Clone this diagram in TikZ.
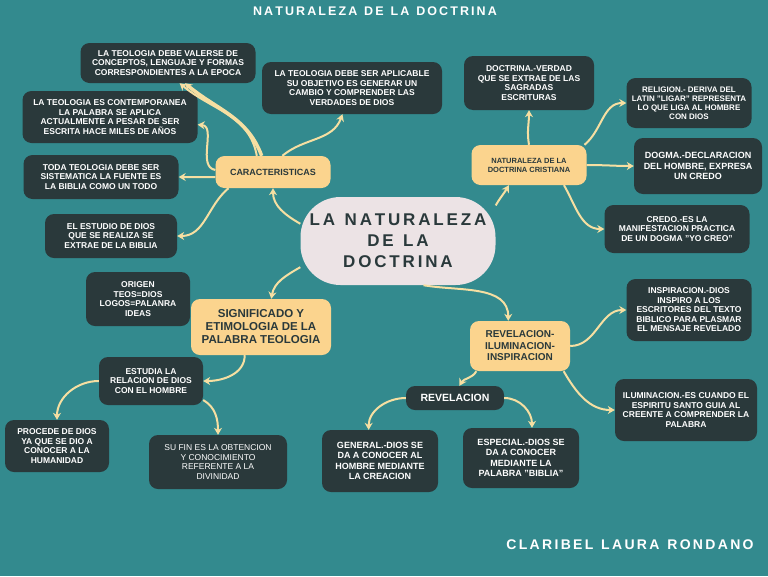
\documentclass[tikz,border=0pt]{standalone}
\usepackage{fontspec}
\setmainfont{Liberation Sans}
\usetikzlibrary{arrows.meta}
\definecolor{bg}{HTML}{338A8E}
\definecolor{dk}{HTML}{2A393B}
\definecolor{yl}{HTML}{FBD48E}
\definecolor{cn}{HTML}{ECE3E5}
\definecolor{ar}{HTML}{F6DFA2}
\tikzset{
 dbox/.style={fill=dk,rounded corners=9pt,text=white,align=center,font=\bfseries\fontsize{8.5}{9.5}\selectfont,inner sep=2pt},
 ybox/.style={fill=yl,rounded corners=9pt,text=dk,align=center,font=\bfseries\fontsize{9}{10}\selectfont,inner sep=2pt},
 con/.style={draw=ar,line width=2pt,-{Stealth[length=7pt,width=8pt]}},
}
\begin{document}
\begin{tikzpicture}[x=1pt,y=-1pt]
\fill[bg] (0,0) rectangle (768,576);
\useasboundingbox (0,0) rectangle (768,576);
\node[text=white,font=\bfseries\fontsize{12.5}{13}\selectfont] (t) at (375,11) {N\,A\,T\,U\,R\,A\,L\,E\,Z\,A\ \ D\,E\ \ L\,A\ \ D\,O\,C\,T\,R\,I\,N\,A};
\node[text=white,font=\bfseries\fontsize{14}{15}\selectfont] (au) at (630,545) {C\,L\,A\,R\,I\,B\,E\,L\ \ L\,A\,U\,R\,A\ \ R\,O\,N\,D\,A\,N\,O};
\node[fill=cn,rounded corners=40pt,minimum width=195,minimum height=88,text=dk,align=center,font=\bfseries\fontsize{17}{21}\selectfont] (c) at (398,241) {L\,A\ \ N\,A\,T\,U\,R\,A\,L\,E\,Z\,A\\D\,E\ \ L\,A\\D\,O\,C\,T\,R\,I\,N\,A};
\node[ybox,minimum width=115,minimum height=32] (car) at (273,172) {CARACTERISTICAS};
\node[dbox,minimum width=175,minimum height=40] (a1) at (168,63) {LA TEOLOGIA DEBE VALERSE DE\\CONCEPTOS, LENGUAJE Y FORMAS\\CORRESPONDIENTES A LA EPOCA};
\node[dbox,minimum width=180,minimum height=52] (a2) at (352,88) {LA TEOLOGIA DEBE SER APLICABLE\\SU OBJETIVO ES GENERAR UN\\CAMBIO Y COMPRENDER LAS\\VERDADES DE DIOS};
\node[dbox,minimum width=175,minimum height=52] (a3) at (110,117) {LA TEOLOGIA ES CONTEMPORANEA\\LA PALABRA SE APLICA\\ACTUALMENTE A PESAR DE SER\\ESCRITA HACE MILES DE AÑOS};
\node[dbox,minimum width=155,minimum height=44] (a4) at (101,177) {TODA TEOLOGIA DEBE SER\\SISTEMATICA LA FUENTE ES\\LA BIBLIA COMO UN TODO};
\node[dbox,minimum width=132,minimum height=44] (a5) at (111,236) {EL ESTUDIO DE DIOS\\QUE SE REALIZA SE\\EXTRAE DE LA BIBLIA};
\node[ybox,minimum width=115,minimum height=40,font=\bfseries\fontsize{7.5}{9}\selectfont] (nat) at (529,165) {NATURALEZA DE LA\\DOCTRINA CRISTIANA};
\node[dbox,minimum width=130,minimum height=54] (b1) at (529,83) {DOCTRINA.-VERDAD\\QUE SE EXTRAE DE LAS\\SAGRADAS\\ESCRITURAS};
\node[dbox,minimum width=125,minimum height=50,font=\bfseries\fontsize{8}{9}\selectfont] (b2) at (689,103) {RELIGION.- DERIVA DEL\\LATIN "LIGAR" REPRESENTA\\LO QUE LIGA AL HOMBRE\\CON DIOS};
\node[dbox,minimum width=128,minimum height=56,font=\bfseries\fontsize{9}{10.5}\selectfont] (b3) at (698,166) {DOGMA.-DECLARACION\\DEL HOMBRE, EXPRESA\\UN CREDO};
\node[dbox,minimum width=145,minimum height=48] (b4) at (677,229) {CREDO.-ES LA\\MANIFESTACION PRACTICA\\DE UN DOGMA "YO CREO"};
\node[dbox,minimum width=104,minimum height=54] (o) at (138,299) {ORIGEN\\TEOS=DIOS\\LOGOS=PALANRA\\IDEAS};
\node[ybox,minimum width=140,minimum height=56,font=\bfseries\fontsize{11.5}{13}\selectfont] (sig) at (261,327) {SIGNIFICADO Y\\ETIMOLOGIA DE LA\\PALABRA TEOLOGIA};
\node[dbox,minimum width=104,minimum height=48] (es) at (151,381) {ESTUDIA LA\\RELACION DE DIOS\\CON EL HOMBRE};
\node[dbox,minimum width=104,minimum height=52] (pr) at (57,446) {PROCEDE DE DIOS\\YA QUE SE DIO A\\CONOCER A LA\\HUMANIDAD};
\node[dbox,minimum width=138,minimum height=54,font=\fontsize{8.5}{9.5}\selectfont] (sf) at (218,462) {SU FIN ES LA OBTENCION\\Y CONOCIMIENTO\\REFERENTE A LA\\DIVINIDAD};
\node[ybox,minimum width=100,minimum height=50,font=\bfseries\fontsize{10}{11.5}\selectfont] (rev) at (520,346) {REVELACION-\\ILUMINACION-\\INSPIRACION};
\node[dbox,minimum width=125,minimum height=62] (ins) at (689,310) {INSPIRACION.-DIOS\\INSPIRO A LOS\\ESCRITORES DEL TEXTO\\BIBLICO PARA PLASMAR\\EL MENSAJE REVELADO};
\node[dbox,minimum width=98,minimum height=24,font=\bfseries\fontsize{10.5}{11}\selectfont] (rv) at (455,398) {REVELACION};
\node[dbox,minimum width=142,minimum height=62] (il) at (686,410) {ILUMINACION.-ES CUANDO EL\\ESPIRITU SANTO GUIA AL\\CREENTE A COMPRENDER LA\\PALABRA};
\node[dbox,minimum width=116,minimum height=62,font=\bfseries\fontsize{9}{10.5}\selectfont] (ge) at (380,461) {GENERAL.-DIOS SE\\DA A CONOCER AL\\HOMBRE MEDIANTE\\LA CREACION};
\node[dbox,minimum width=116,minimum height=60,font=\bfseries\fontsize{9}{10.5}\selectfont] (sp) at (521,458) {ESPECIAL.-DIOS SE\\DA A CONOCER\\MEDIANTE LA\\PALABRA "BIBLIA"};
% connectors
\draw[con] (c.170) to[out=150,in=-90] (car.south);
\draw[con] (car.135) to[out=100,in=-40] (a1.-60);
\draw[con,line width=3.5pt] (car.125) to[out=110,in=-40] (a1.-50);
\draw[con] (car.60) to[out=40,in=-110] (a2.-110);
\draw[con] (car.178) to[out=170,in=-5] (a3.-5);
\draw[con] (car.185) to[out=180,in=0] (a4.east);
\draw[con] (car.200) to[out=-140,in=0] (a5.east);
\draw[con] (c.20) to[out=60,in=-120] (nat.-135);
\draw[con] (nat.north) to[out=100,in=-90] (b1.south);
\draw[con] (nat.20) to[out=40,in=180] (b2.west);
\draw[con] (nat.east) to[out=0,in=180] (b3.west);
\draw[con] (nat.-30) to[out=-60,in=180] (b4.west);
\draw[con] (c.-165) to[out=-150,in=80] (sig.70);
\draw[con] (c.-60) to[out=-10,in=90] (rev.115);
\draw[con] (sig.-120) to[out=-90,in=0] (es.east);
\draw[con] (es.west) to[out=180,in=90] (pr.north);
\draw[con] (es.-20) to[out=-30,in=90] (sf.north);
\draw[con] (rev.east) to[out=0,in=180] (ins.west);
\draw[con] (rev.-30) to[out=-60,in=180] (il.west);
\draw[con] (rev.-150) to[out=-120,in=60] (rv.70);
\draw[con] (rv.west) to[out=180,in=90] (ge.110);
\draw[con] (rv.east) to[out=0,in=90] (sp.70);
\end{tikzpicture}
\end{document}
